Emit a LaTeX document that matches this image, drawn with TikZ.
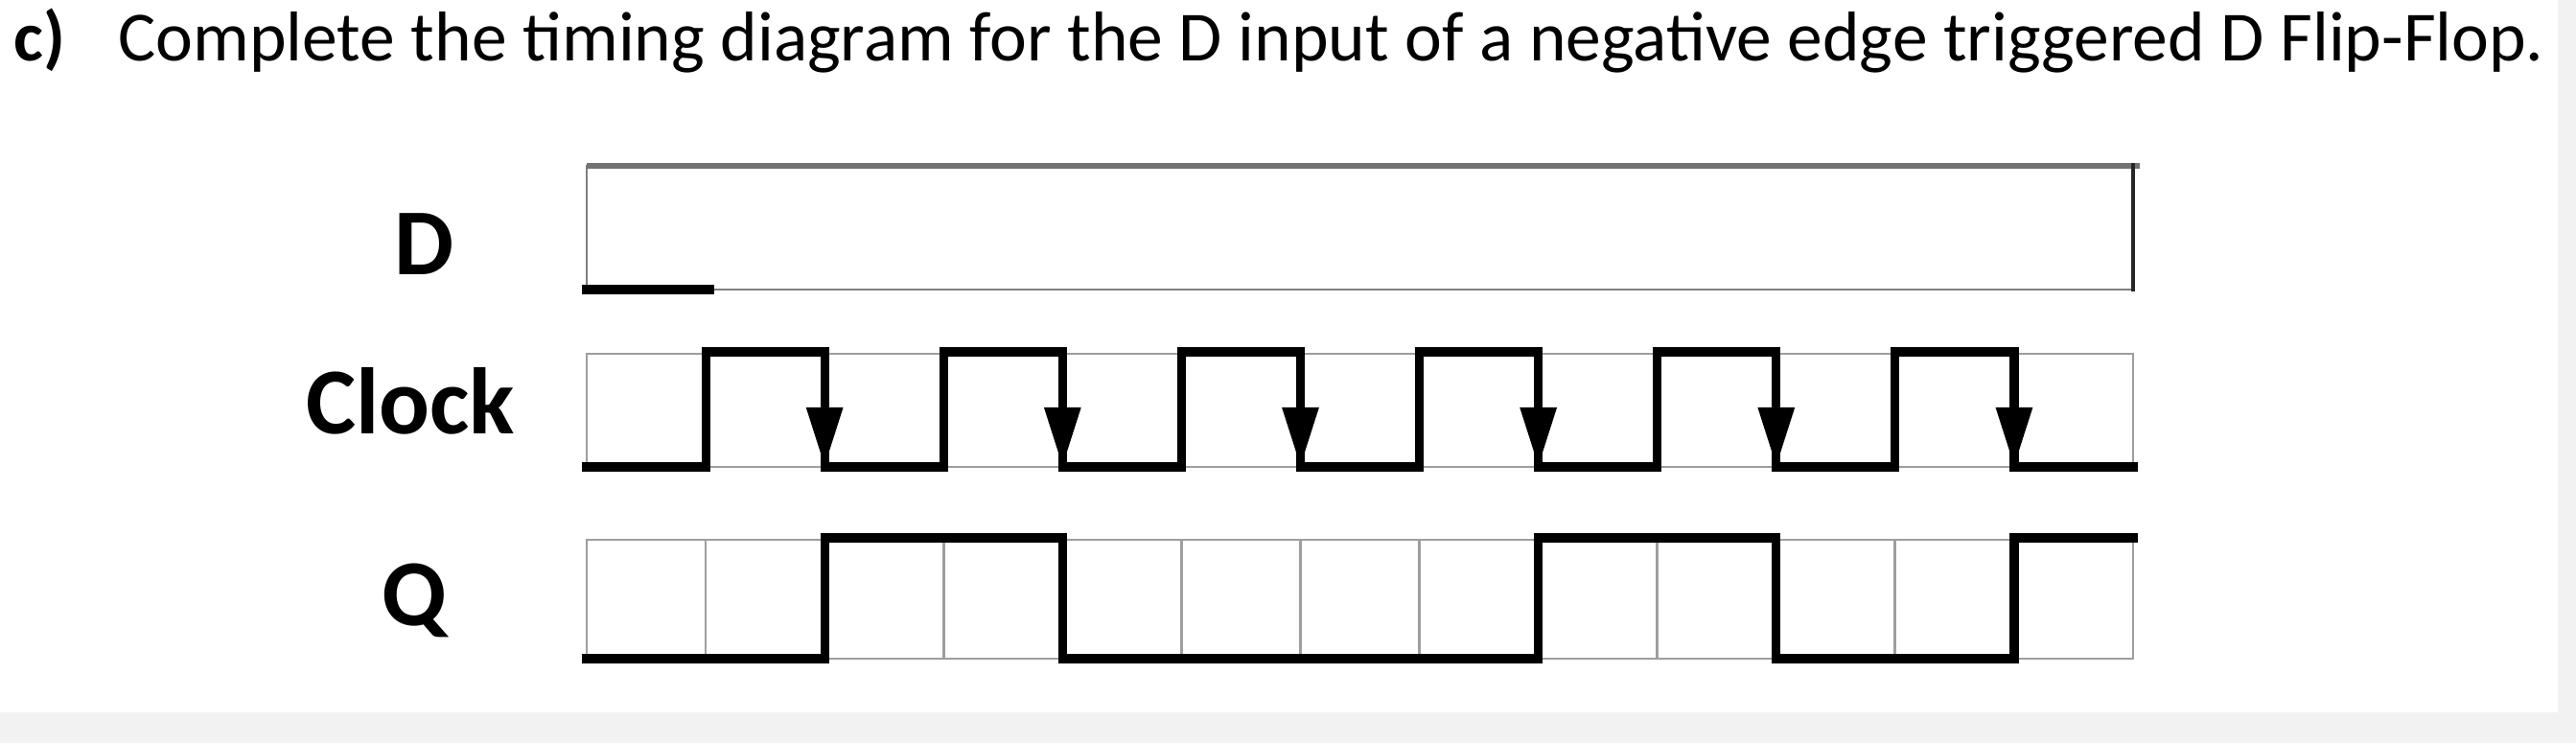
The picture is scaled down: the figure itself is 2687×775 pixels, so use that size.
\documentclass[tikz,border=0pt]{standalone}
\usepackage{fontspec}
\setmainfont{Carlito}
\usetikzlibrary{
  calc,
  positioning,
  arrows.meta
}

\begin{document}
\begin{tikzpicture}[x=0.01cm, y=-0.01cm,
  sig/.style={line width=2.6pt, line join=miter, line cap=rect, black},
  gridline/.style={line width=0.8pt, draw=black!38},
  lbl/.style={font=\fontsize{28}{31}\selectfont\bfseries, inner sep=0pt, anchor=base},
  >={Triangle[length=0.62cm, width=0.36cm]}]
% page and margins
\fill[black!5] (0,0) rectangle (2687,775);
\fill[white] (0,0) rectangle (2668,743);
\useasboundingbox (0,0) rectangle (2687,775);
% question
\node[anchor=base west, inner sep=0pt, font=\fontsize{20.9}{25}\selectfont\bfseries] (part) at (14,63) {c)};
\node[anchor=base west, inner sep=0pt, font=\fontsize{20.9}{25}\selectfont] (title) at (123,63) {Complete the timing diagram for the D input of a negative edge triggered D Flip-Flop.};
% row labels
\node[lbl] (lblD) at (443,286) {D};
\node[lbl] (lblClock) at (428,452) {Clock};
\node[lbl] (lblQ) at (432,652) {Q};
% D row
\draw[gridline, draw=black!50] (612,173) rectangle (2225,302);
\draw[line width=1.5pt, black!55] (612,173) -- (2232,173);
\draw[line width=0.9pt, black!85] (2225,170) -- (2225,304);
\draw[sig] (612,302) -- (740,302);
% Clock row
\draw[gridline] (612,369) rectangle (2225,487);
\foreach \i in {1,...,12}
  \draw[gridline] ({612+124.08*\i},369) -- ++(0,118);
\draw[sig] (612,487) foreach \k in {0,...,5} {
  -- ({612+124.08*(2*\k+1)},487) -- ({612+124.08*(2*\k+1)},367)
  -- ({612+124.08*(2*\k+2)},367) -- ({612+124.08*(2*\k+2)},487) } -- (2225,487);
\foreach \k in {0,...,5}
  \draw[->, line width=2.6pt] ({612+124.08*(2*\k+2)},380) -- ({612+124.08*(2*\k+2)},487);
% Q row
\draw[gridline] (612,563) rectangle (2225,687);
\foreach \i in {1,...,12}
  \draw[gridline] ({612+124.08*\i},563) -- ++(0,124);
\draw[sig] (612,687) -- (860.2,687) -- (860.2,561) -- (1108.3,561) -- (1108.3,687)
  -- (1604.6,687) -- (1604.6,561) -- (1852.8,561) -- (1852.8,687)
  -- (2101,687) -- (2101,561) -- (2225,561);
\end{tikzpicture}
\end{document}
